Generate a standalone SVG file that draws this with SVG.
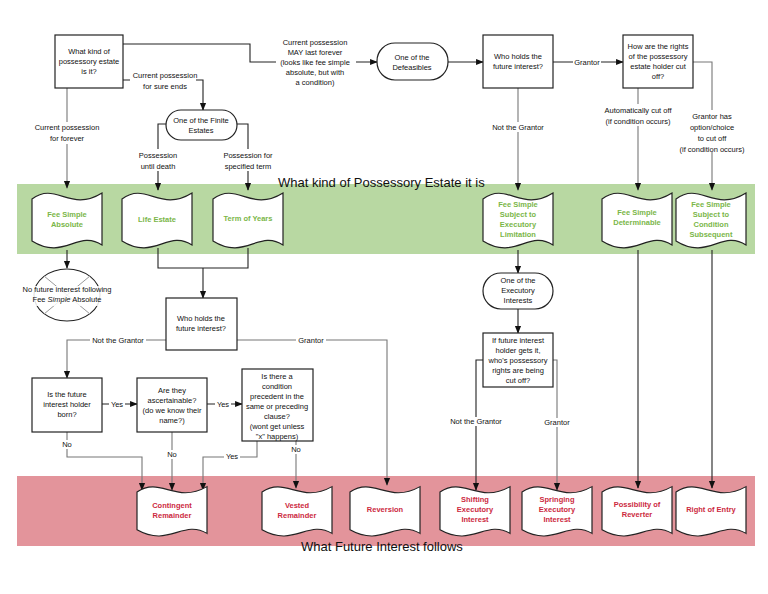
<svg xmlns="http://www.w3.org/2000/svg" width="768" height="594" viewBox="0 0 768 594">
<style>
text{font-family:"Liberation Sans",Arial,sans-serif;font-size:7.5px;fill:#111;text-anchor:middle}
.box{fill:#fff;stroke:#222;stroke-width:1.2}
.doc{fill:#fff;stroke:#222;stroke-width:1.2}
.g{fill:#7ab648;font-weight:bold}
.r{fill:#cc2840;font-weight:bold}
.c{fill:none;stroke:#222;stroke-width:1.1;marker-end:url(#a)}
.cn{fill:none;stroke:#222;stroke-width:1.1}
.gr{stroke:#777}
.lbl{fill:#fff;stroke:none}
.band{font-size:13px;text-anchor:start}
</style>
<defs>
<marker id="a" viewBox="0 0 10 10" refX="9" refY="5" markerWidth="7" markerHeight="7" orient="auto"><path d="M0,1 L10,5 L0,9 Z" fill="#111"/></marker>
<path id="w" d="M0,10 C24,-8 38,24 70,4 L70,56 C46,40 32,72 0,52 Z"/>
</defs>
<rect x="17" y="184" width="738" height="70" fill="#b8d8a2"/>
<rect x="17" y="476" width="738" height="70" fill="#e3949b"/>
<text class="band" x="278" y="187">What kind of Possessory Estate it is</text>
<text class="band" x="301" y="551">What Future Interest follows</text>

<g id="connectors">
<polyline class="c gr" points="67,88 67,188"/>
<rect class="lbl" x="30" y="122" width="74" height="22"/>
<text x="67" y="130">Current possession</text><text x="67" y="141">for forever</text>
<polyline class="c" points="123,80 203,80 203,110"/>
<rect class="lbl" x="130" y="70" width="66" height="22"/>
<text x="165" y="78">Current possession</text><text x="165" y="89">for sure ends</text>
<polyline class="c" points="123,44 250,44 250,62 377,62"/>
<rect class="lbl" x="276" y="36" width="80" height="50"/>
<text x="315" y="45">Current possession</text><text x="315" y="55">MAY last forever</text><text x="315" y="65">(looks like fee simple</text><text x="315" y="75">absolute, but with</text><text x="315" y="85">a condition)</text>
<polyline class="c" points="166,124 158,124 158,190"/>
<rect class="lbl" x="134" y="149" width="48" height="22"/>
<text x="158" y="158">Possession</text><text x="158" y="169">until death</text>
<polyline class="c" points="237,124 248,124 248,190"/>
<rect class="lbl" x="218" y="149" width="60" height="22"/>
<text x="248" y="158">Possession for</text><text x="248" y="169">specified term</text>
<polyline class="c" points="448,62 483,62"/>
<polyline class="c" points="553,62 623,62"/>
<rect class="lbl" x="573" y="57" width="28" height="10"/><text x="587" y="65">Grantor</text>
<polyline class="c gr" points="518,88 518,190"/>
<rect class="lbl" x="490" y="122" width="56" height="10"/><text x="518" y="130">Not the Grantor</text>
<polyline class="c gr" points="638,88 638,190"/>
<rect class="lbl" x="600" y="104" width="76" height="22"/>
<text x="638" y="113">Automatically cut off</text><text x="638" y="124">(if condition occurs)</text>
<polyline class="c gr" points="693,62 712,62 712,190"/>
<rect class="lbl" x="676" y="110" width="72" height="42"/>
<text x="712" y="119">Grantor has</text><text x="712" y="130">option/choice</text><text x="712" y="141">to cut off</text><text x="712" y="152">(if condition occurs)</text>
<polyline class="c" points="67,250 67,268"/>
<polyline class="cn" points="158,248 158,268 248,268 248,248"/>
<polyline class="c" points="203,268 203,298"/>
<polyline class="c gr" points="166,340 67,340 67,378"/>
<rect class="lbl" x="90" y="336" width="56" height="9"/><text x="118" y="343">Not the Grantor</text>
<polyline class="c gr" points="237,340 387,340 387,485"/>
<rect class="lbl" x="296" y="336" width="30" height="9"/><text x="311" y="343">Grantor</text>
<polyline class="c" points="102,404 137,404"/>
<rect class="lbl" x="109" y="400" width="16" height="9"/><text x="117" y="407">Yes</text>
<polyline class="c" points="207,404 242,404"/>
<rect class="lbl" x="215" y="400" width="16" height="9"/><text x="223" y="407">Yes</text>
<polyline class="c gr" points="67,432 67,457 142,457 142,490"/>
<rect class="lbl" x="60" y="440" width="14" height="9"/><text x="67" y="447">No</text>
<polyline class="c gr" points="172,432 172,490"/>
<rect class="lbl" x="165" y="450" width="14" height="9"/><text x="172" y="457">No</text>
<polyline class="c gr" points="257,441 257,457 203,457 203,490"/>
<rect class="lbl" x="224" y="452" width="16" height="9"/><text x="232" y="459">Yes</text>
<polyline class="c gr" points="296,441 296,488"/>
<rect class="lbl" x="289" y="445" width="14" height="9"/><text x="296" y="452">No</text>
<polyline class="c" points="518,250 518,273"/>
<polyline class="c" points="518,309 518,333"/>
<polyline class="c" points="483,360 476,360 476,490"/>
<rect class="lbl" x="448" y="417" width="56" height="9"/><text x="476" y="424">Not the Grantor</text>
<polyline class="c gr" points="553,360 557,360 557,490"/>
<rect class="lbl" x="543" y="418" width="28" height="9"/><text x="557" y="425">Grantor</text>
<polyline class="c" points="638,250 638,488"/>
<polyline class="c" points="712,250 712,488"/>
</g>

<g id="n-what-kind"><rect class="box" x="55" y="35" width="68" height="53"/><text x="89" y="54">What kind of</text><text x="89" y="64">possessory estate</text><text x="89" y="74">is it?</text></g>
<g id="n-finite"><rect class="box" x="166" y="110" width="71" height="30" rx="15"/><text x="201" y="123">One of the Finite</text><text x="201" y="133">Estates</text></g>
<g id="n-defeasibles"><rect class="box" x="377" y="43" width="71" height="37" rx="18"/><text x="412" y="60">One of the</text><text x="412" y="70">Defeasibles</text></g>
<g id="n-who-top"><rect class="box" x="483" y="35" width="70" height="53"/><text x="518" y="59">Who holds the</text><text x="518" y="69">future interest?</text></g>
<g id="n-how"><rect class="box" x="623" y="35" width="70" height="53"/><text x="658" y="49">How are the rights</text><text x="658" y="59">of the possessory</text><text x="658" y="69">estate holder cut</text><text x="658" y="79">off?</text></g>

<g id="n-fsa"><use href="#w" class="doc" transform="translate(32,189)"/><text class="g" x="67" y="217">Fee Simple</text><text class="g" x="67" y="227">Absolute</text></g>
<g id="n-life"><use href="#w" class="doc" transform="translate(122,189)"/><text class="g" x="157" y="222">Life Estate</text></g>
<g id="n-term"><use href="#w" class="doc" transform="translate(213,189)"/><text class="g" x="248" y="221">Term of Years</text></g>
<g id="n-fssel"><use href="#w" class="doc" transform="translate(483,189)"/><text class="g" x="518" y="207">Fee Simple</text><text class="g" x="518" y="217">Subject to</text><text class="g" x="518" y="227">Executory</text><text class="g" x="518" y="237">Limitation</text></g>
<g id="n-fsd"><use href="#w" class="doc" transform="translate(602,189)"/><text class="g" x="637" y="215">Fee Simple</text><text class="g" x="637" y="225">Determinable</text></g>
<g id="n-fsscs"><use href="#w" class="doc" transform="translate(676,189)"/><text class="g" x="711" y="207">Fee Simple</text><text class="g" x="711" y="217">Subject to</text><text class="g" x="711" y="227">Condition</text><text class="g" x="711" y="237">Subsequent</text></g>

<g id="n-none"><ellipse cx="67" cy="295" rx="33" ry="26" fill="#fff" stroke="#222" stroke-width="1.1"/><line x1="44" y1="276" x2="90" y2="314" stroke="#999"/><line x1="90" y1="276" x2="44" y2="314" stroke="#999"/><rect x="22" y="286" width="90" height="20" fill="#fff" opacity="0.85"/><text x="67" y="292">No future interest following</text><text x="67" y="302"><tspan>Fee </tspan><tspan font-style="italic">Simple</tspan><tspan> Absolute</tspan></text></g>
<g id="n-who-mid"><rect class="box" x="166" y="298" width="71" height="52"/><text x="201" y="321">Who holds the</text><text x="201" y="331">future interest?</text></g>
<g id="n-born"><rect class="box" x="32" y="378" width="70" height="54"/><text x="67" y="397">Is the future</text><text x="67" y="407">interest holder</text><text x="67" y="417">born?</text></g>
<g id="n-ascert"><rect class="box" x="137" y="378" width="70" height="54"/><text x="172" y="393">Are they</text><text x="172" y="403">ascertainable?</text><text x="172" y="413">(do we know their</text><text x="172" y="423">name?)</text></g>
<g id="n-cond"><rect class="box" x="242" y="369" width="71" height="72"/><text x="277" y="379">Is there a</text><text x="277" y="389">condition</text><text x="277" y="399">precedent in the</text><text x="277" y="409">same or preceding</text><text x="277" y="419">clause?</text><text x="277" y="429">(wont get unless</text><text x="277" y="439">"x" happens)</text></g>
<g id="n-exec"><rect class="box" x="483" y="273" width="70" height="36" rx="18"/><text x="518" y="283">One of the</text><text x="518" y="293">Executory</text><text x="518" y="303">Interests</text></g>
<g id="n-iffut"><rect class="box" x="483" y="333" width="70" height="54"/><text x="518" y="343">If future interest</text><text x="518" y="353">holder gets it,</text><text x="518" y="363">who's possessory</text><text x="518" y="373">rights are being</text><text x="518" y="383">cut off?</text></g>

<g id="n-contingent"><use href="#w" class="doc" transform="translate(137,483) scale(1,0.9)"/><text class="r" x="172" y="508">Contingent</text><text class="r" x="172" y="518">Remainder</text></g>
<g id="n-vested"><use href="#w" class="doc" transform="translate(262,483) scale(1,0.9)"/><text class="r" x="297" y="508">Vested</text><text class="r" x="297" y="518">Remainder</text></g>
<g id="n-reversion"><use href="#w" class="doc" transform="translate(350,483) scale(1,0.9)"/><text class="r" x="385" y="512">Reversion</text></g>
<g id="n-shifting"><use href="#w" class="doc" transform="translate(440,483) scale(1,0.9)"/><text class="r" x="475" y="502">Shifting</text><text class="r" x="475" y="512">Executory</text><text class="r" x="475" y="522">Interest</text></g>
<g id="n-springing"><use href="#w" class="doc" transform="translate(522,483) scale(1,0.9)"/><text class="r" x="557" y="502">Springing</text><text class="r" x="557" y="512">Executory</text><text class="r" x="557" y="522">Interest</text></g>
<g id="n-reverter"><use href="#w" class="doc" transform="translate(602,483) scale(1,0.9)"/><text class="r" x="637" y="507">Possibility of</text><text class="r" x="637" y="517">Reverter</text></g>
<g id="n-entry"><use href="#w" class="doc" transform="translate(676,483) scale(1,0.9)"/><text class="r" x="711" y="512">Right of Entry</text></g>
</svg>
